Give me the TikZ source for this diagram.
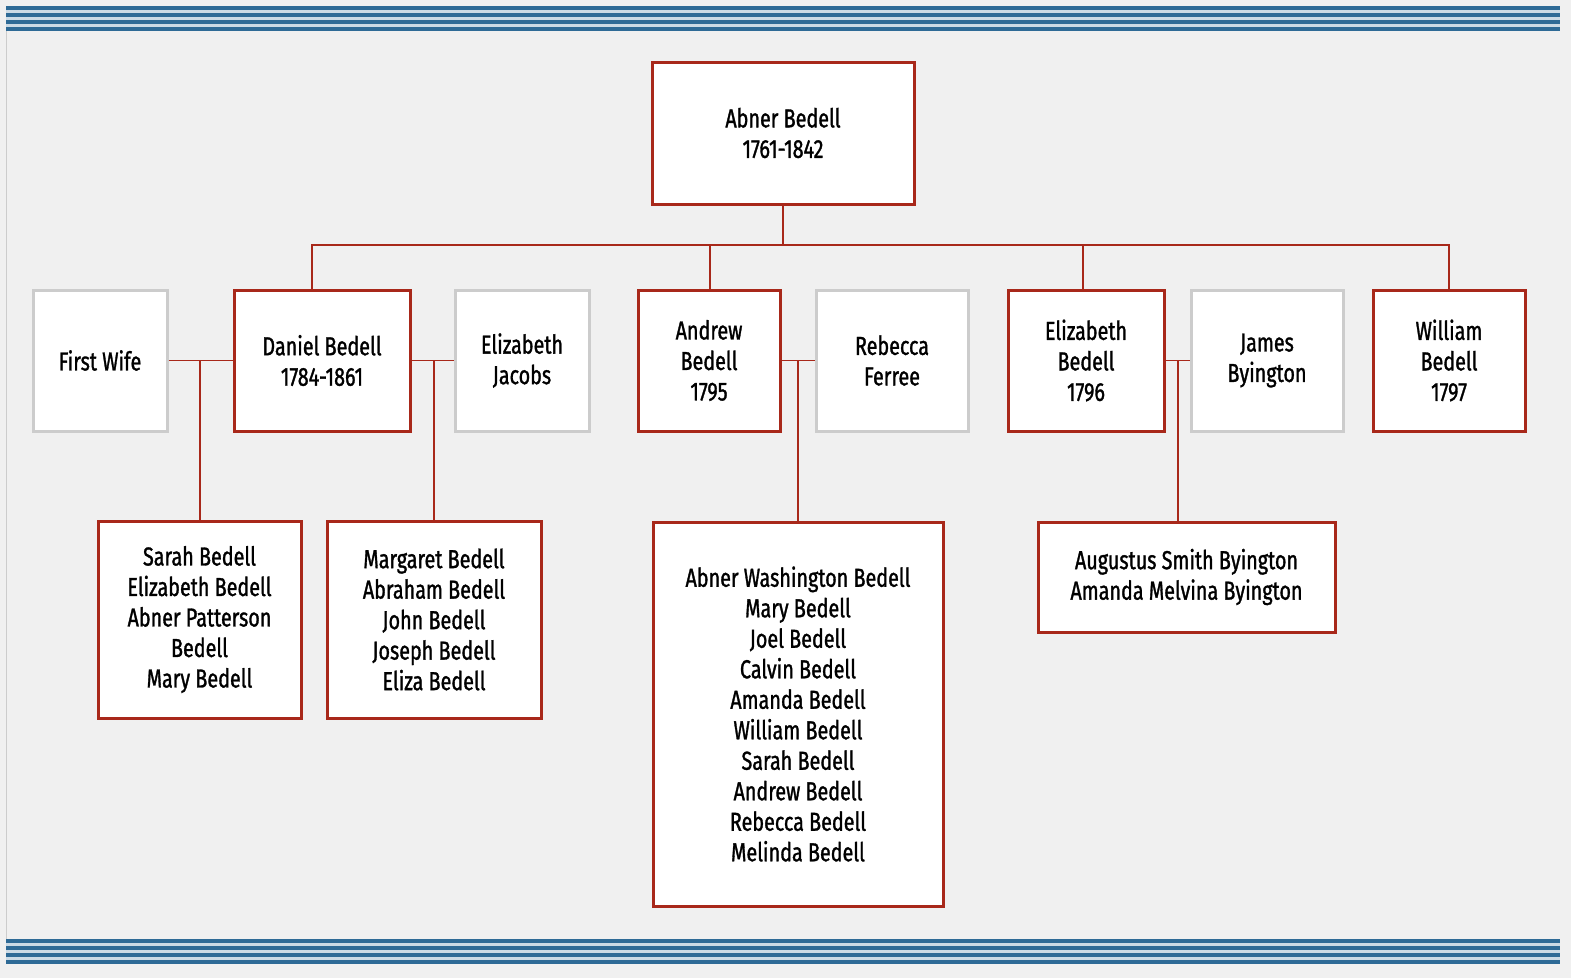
\documentclass[tikz,border=0pt]{standalone}
\usepackage{fontspec}
\setmainfont[FakeStretch=0.76,FakeBold=1.2]{Fira Sans}
\definecolor{rb}{HTML}{A8281A}
\definecolor{st}{HTML}{2E6A96}
\begin{document}
\begin{tikzpicture}[x=1pt,y=-1pt,
 p/.style={draw=rb,line width=3pt,fill=white,align=center,font=\fontsize{26}{30.5}\selectfont,inner sep=0pt},
 g/.style={p,draw=black!20},
 ln/.style={draw=rb,line width=1.2pt}]
\fill[black!6] (0,0) rectangle (1571,978);
\draw[black!20] (6,30) -- (6,945);
\fill[st!25] (6,6) rectangle (1560,31);
\fill[st!25] (6,939) rectangle (1560,964);
\foreach \y in {8,15,22,29,941,948,955,962}{\fill[st] (6,\y-2) rectangle (1560,\y+2);}
\newcommand\bx[6]{\node[#1,minimum width=#4-#2,minimum height=#5-#3] (#6) at ({(#2+#4)/2},{(#3+#5)/2})}
\bx{p}{652}{62}{914}{204}{abner} {Abner Bedell\\1761-1842};
\bx{g}{33}{290}{167}{431}{fw} {First Wife};
\bx{p}{234}{290}{410}{431}{dan} {Daniel Bedell\\1784-1861};
\bx{g}{455}{290}{589}{431}{ej} {Elizabeth\\Jacobs};
\bx{p}{638}{290}{780}{431}{and} {Andrew\\Bedell\\1795};
\bx{g}{816}{290}{968}{431}{rf} {Rebecca\\Ferree};
\bx{p}{1008}{290}{1164}{431}{eb} {Elizabeth\\Bedell\\1796};
\bx{g}{1191}{290}{1343}{431}{jb} {James\\Byington};
\bx{p}{1373}{290}{1525}{431}{wb} {William\\Bedell\\1797};
\bx{p}{98}{521}{301}{718}{c1} {Sarah Bedell\\Elizabeth Bedell\\Abner Patterson\\Bedell\\Mary Bedell};
\bx{p}{327}{521}{541}{718}{c2} {Margaret Bedell\\Abraham Bedell\\John Bedell\\Joseph Bedell\\Eliza Bedell};
\bx{p}{653}{522}{943}{906}{c3} {Abner Washington Bedell\\Mary Bedell\\Joel Bedell\\Calvin Bedell\\Amanda Bedell\\William Bedell\\Sarah Bedell\\Andrew Bedell\\Rebecca Bedell\\Melinda Bedell};
\bx{p}{1038}{522}{1335}{632}{c4} {Augustus Smith Byington\\Amanda Melvina Byington};
\coordinate (bar) at (783,245);
\draw[ln] (abner.south) -- (bar);
\draw[ln] (dan.north -| 312,0) |- (1449,245) -- (wb.north);
\draw[ln] (and.north -| 710,0) -- (710,245);
\draw[ln] (eb.north -| 1083,0) -- (1083,245);
\draw[ln] (fw.east) -- (dan.west); \draw[ln] (200,360) -- (c1.north -| 200,0);
\draw[ln] (dan.east) -- (ej.west); \draw[ln] (434,360) -- (c2.north -| 434,0);
\draw[ln] (and.east) -- (rf.west); \draw[ln] (798,360) -- (c3.north -| 798,0);
\draw[ln] (eb.east) -- (jb.west); \draw[ln] (1178,360) -- (c4.north -| 1178,0);
\end{tikzpicture}
\end{document}
